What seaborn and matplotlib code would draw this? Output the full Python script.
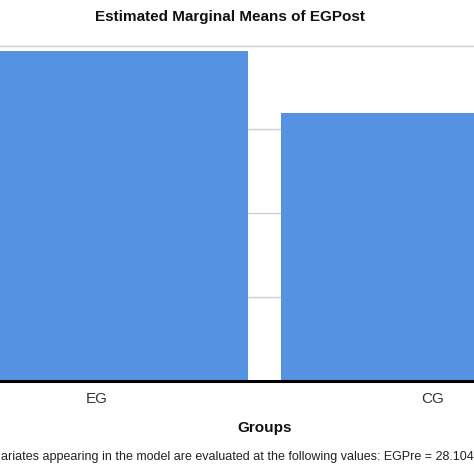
import matplotlib
matplotlib.use("Agg")
import matplotlib.pyplot as plt
import seaborn as sns
import pandas as pd

groups = ["EG", "CG"]
means = [39.3, 32.0]
title = "Estimated Marginal Means of EGPost"
xlabel = "Groups"
footnote = "ariates appearing in the model are evaluated at the following values: EGPre = 28.104"

sns.set_theme(style="white")
plt.rcParams['font.family'] = ['Liberation Sans', 'DejaVu Sans']

df = pd.DataFrame({"Groups": groups, "Mean": means})

W = H = 474
fig = plt.figure(figsize=(4.74, 4.74), dpi=100)
# axes extends beyond the figure (reference is a crop)
ymax = 40.5
left_px, right_px = -70.6, 600.0
bot_px = 380.7
top_px = bot_px - ymax * (380.7 - 45.5) / 40
ax = fig.add_axes([left_px / W, 1 - bot_px / H, (right_px - left_px) / W, (bot_px - top_px) / H])

sns.barplot(data=df, x="Groups", y="Mean", color="#5592E1", width=0.9,
            saturation=1, errorbar=None, ax=ax, zorder=2, linewidth=0)

ax.set_ylim(0, ymax)
ax.set_xlim(-0.5, 1.5)
ax.set_yticks([10, 20, 30, 40])
ax.yaxis.grid(True, color="#CFCFCF", linewidth=1.0, zorder=0)
ax.set_axisbelow(True)
for s in ["top", "right", "left"]:
    ax.spines[s].set_visible(False)
ax.spines["bottom"].set_color("black")
ax.spines["bottom"].set_linewidth(2.2)
ax.spines["bottom"].set_zorder(5)
ax.tick_params(axis="y", left=False, labelleft=False)
ax.tick_params(axis="x", bottom=False, pad=2, labelsize=11, labelcolor="#333333")
ax.set_xlabel("")
ax.set_ylabel("")

fig.text(230 / W, 1 - 17 / H, title, ha="center", va="center",
         fontsize=11, fontweight="bold", color="#111111")
fig.text(264.7 / W, 1 - 427.7 / H, xlabel, ha="center", va="center",
         fontsize=11, fontweight="bold", color="#111111")

# footnote sized so the visible part spans the width, as in the crop
fig.canvas.draw()
r = fig.canvas.get_renderer()
tmp = fig.text(0, 0, footnote, fontsize=10)
wpx = tmp.get_window_extent(renderer=r).width
tmp.remove()
fs = 10 * 472 / wpx
fig.text(1 / W, 1 - 456.7 / H, footnote, ha="left", va="center",
         fontsize=fs, color="#222222")

fig.savefig("out.png", dpi=100)
